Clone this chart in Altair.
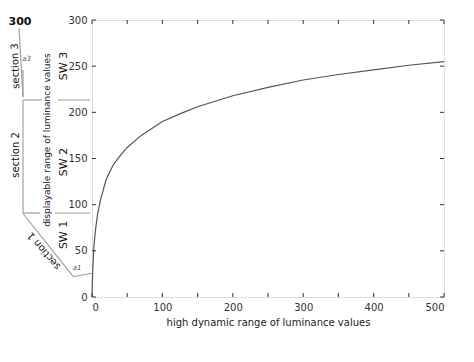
import altair as alt
import pandas as pd

# main curve
curve_x = [0, 0.5, 1, 2, 3, 5, 8, 12, 20, 30, 40, 50, 70, 100, 130, 150, 200, 250, 300, 350, 400, 450, 500]
curve_y = [0, 17, 28, 45, 57, 73, 90, 105, 127, 143, 153, 162, 175, 190, 200, 206, 218, 227, 235, 241, 246, 251, 255]

x_ticks = [0, 50, 100, 150, 200, 250, 300, 350, 400, 450, 500]
y_ticks = [0, 50, 100, 150, 200, 250, 300]

# left-hand explanatory diagram, in data units of the chart
seg_x1 = [-103.7, -98, -98, -48.3, -98, -98, -52.6, -98, -26.6]
seg_y1 = [291.3, 245.9, 213.4, 213.4, 213.4, 91, 91, 90.4, 22]
seg_x2 = [-98, -98, -71, -2.8, -98, -73.9, -2.8, -26.6, -0.4]
seg_y2 = [216.6, 216.6, 213.4, 213.4, 91, 91, 91, 22, 25.7]

sec_text = ["section 3", "section 2", "section 1"]
sec_x = [-108.7, -108, -68.2]
sec_y = [250.2, 153.8, 49.8]
sec_angle = [268, 270, 230]

sw_text = ["SW 3", "SW 2", "SW 1"]
sw_x = [-39.8, -39.8, -39.8]
sw_y = [250.2, 146.2, 67.2]

ang_text = ["a3", "a1"]
ang_x = [-93.0, -21.3]
ang_y = [257.5, 31.4]

top_text = ["300"]
top_x = [-102.3]
top_y = [297.8]

disp_text = ["displayable range of luminance values"]
disp_x = [-63.9]
disp_y = [170]

FONT = "DejaVu Sans"
XS = alt.Scale(domain=[0, 500], nice=False, zero=False)
YS = alt.Scale(domain=[0, 300], nice=False, zero=False)

curve = pd.DataFrame({"x": curve_x, "y": curve_y})
segs = pd.DataFrame({"x": seg_x1, "y": seg_y1, "x2": seg_x2, "y2": seg_y2})

base_x = alt.X("x:Q", scale=XS,
               axis=alt.Axis(values=x_ticks, title="high dynamic range of luminance values",
                             ticks=False, domain=False, grid=False, labelPadding=5,
                             labelFont=FONT, labelFontSize=10, labelColor="#333",
                             titleFont=FONT, titleFontSize=10, titleFontWeight="normal",
                             titleColor="#222", titlePadding=5))
base_y = alt.Y("y:Q", scale=YS,
               axis=alt.Axis(values=y_ticks, title=None, ticks=False, domain=False, grid=False,
                             labelPadding=5, labelFont=FONT, labelFontSize=10, labelColor="#333"))

line = alt.Chart(curve).mark_line(color="#555", strokeWidth=1.2).encode(x=base_x, y=base_y)

xt = pd.DataFrame({"x": x_ticks})
yt = pd.DataFrame({"y": y_ticks})
tick_style = dict(color="#333", strokeWidth=1)
xt_bottom = alt.Chart(xt).mark_rule(**tick_style).encode(
    x=alt.X("x:Q", scale=XS), y=alt.value(273), y2=alt.value(277))
xt_top = alt.Chart(xt).mark_rule(**tick_style).encode(
    x=alt.X("x:Q", scale=XS), y=alt.value(0), y2=alt.value(4))
yt_left = alt.Chart(yt).mark_rule(**tick_style).encode(
    y=alt.Y("y:Q", scale=YS), x=alt.value(0), x2=alt.value(4))
yt_right = alt.Chart(yt).mark_rule(**tick_style).encode(
    y=alt.Y("y:Q", scale=YS), x=alt.value(348), x2=alt.value(352))

diagram = alt.Chart(segs).mark_rule(color="#9a9a9a", strokeWidth=1.1, clip=False).encode(
    x=alt.X("x:Q", scale=XS), y=alt.Y("y:Q", scale=YS), x2="x2:Q", y2="y2:Q")


def labels(texts, xs, ys, angles=None, **mk):
    d = {"t": texts, "x": xs, "y": ys}
    enc = dict(x=alt.X("x:Q", scale=XS), y=alt.Y("y:Q", scale=YS), text="t:N")
    if angles is not None:
        d["a"] = angles
        enc["angle"] = alt.Angle("a:Q", scale=None)
    return alt.Chart(pd.DataFrame(d)).mark_text(
        clip=False, align="center", baseline="middle", font=FONT, **mk).encode(**enc)


sec = labels(sec_text, sec_x, sec_y, sec_angle, fontSize=10, color="#111")
sw = labels(sw_text, sw_x, sw_y, [270, 270, 270], fontSize=11, color="#111")
ang = labels(ang_text, ang_x, ang_y, fontSize=7, fontStyle="italic", color="#555")
top = labels(top_text, top_x, top_y, fontSize=11, fontWeight="bold", color="#111")
disp = labels(disp_text, disp_x, disp_y, [270], fontSize=9, color="#222")

chart = alt.layer(
    diagram, line, xt_bottom, xt_top, yt_left, yt_right, sec, sw, ang, top, disp
).properties(
    width=352, height=277,
    autosize=alt.AutoSizeParams(type="none"),
    padding={"left": 84, "top": 12, "right": 22, "bottom": 50},
).configure_view(stroke="#444", strokeWidth=1.5).configure(background="white")

chart.save("out.html", embed_options={"renderer": "svg", "actions": False})
